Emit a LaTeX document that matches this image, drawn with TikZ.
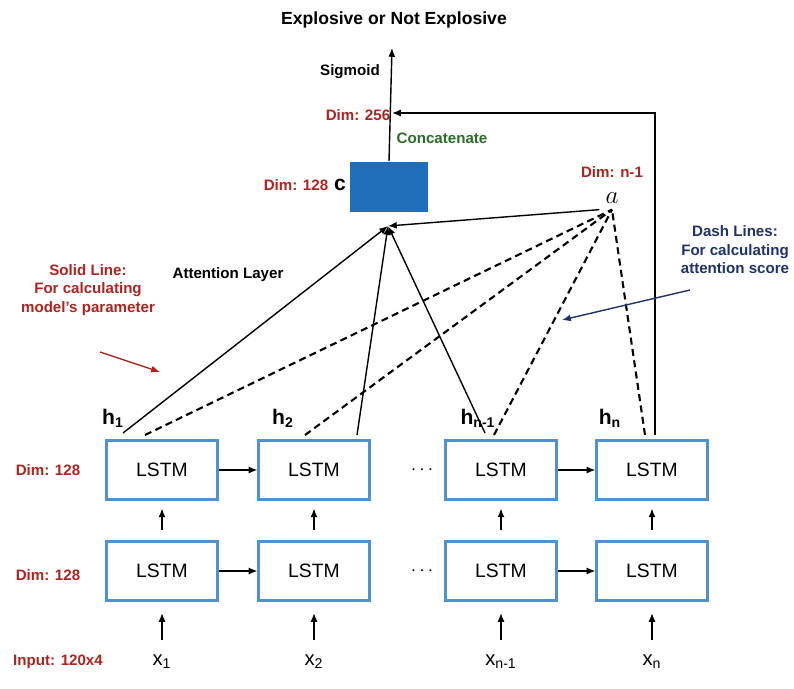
\documentclass[tikz,border=0pt]{standalone}
\usepackage{fontspec}
\setmainfont{Liberation Sans}
\usetikzlibrary{arrows.meta}
\begin{document}
\begin{tikzpicture}[x=0.02cm,y=-0.02cm,
  lbl/.style={font=\bfseries\fontsize{8.6}{10.5}\selectfont,align=center},
  red/.style={lbl,text={rgb,255:red,175;green,35;blue,30}},
  lstm/.style={draw={rgb,255:red,80;green,145;blue,210},line width=1.2pt,minimum width=2.22cm,minimum height=1.18cm,font=\fontsize{11}{13}\selectfont},
  arr/.style={-{Latex[length=5pt,width=4pt]},line width=0.8pt},
  dsh/.style={dashed,dash pattern=on 4pt off 2.5pt,line width=1.2pt}]
\useasboundingbox (0,0) rectangle (794,689);
% LSTM boxes
\foreach \n/\x in {1/162,2/314,3/501,4/652}{
  \node[lstm] (t\n) at (\x,470) {LSTM};
  \node[lstm] (b\n) at (\x,571) {LSTM};
  \draw[arr] (b\n.north) ++(0,-10) coordinate (u\n) -- ++(0,-22);
}
\draw[arr] (t1) -- (t2); \draw[arr] (t3) -- (t4);
\draw[arr] (b1) -- (b2); \draw[arr] (b3) -- (b4);
\node[font=\fontsize{11}{13}\selectfont] (d1) at (422,470) {$\cdots$};
\node[font=\fontsize{11}{13}\selectfont] (d2) at (422,571) {$\cdots$};
% inputs
\foreach \n/\x/\s in {1/162/1,2/314/2,3/501/{n-1},4/652/n}{
  \node[font=\fontsize{11.5}{13}\selectfont] (x\n) at (\x,662) {x\textsubscript{\s}};
  \draw[arr] (\x,640) -- (\x,613);
}
% h labels
\node[font=\bfseries\fontsize{12}{14}\selectfont] (h1) at (113,418) {h\textsubscript{1}};
\node[font=\bfseries\fontsize{12}{14}\selectfont] (h2) at (283,418) {h\textsubscript{2}};
\node[font=\bfseries\fontsize{12}{14}\selectfont] (h3) at (478,418) {h\textsubscript{n-1}};
\node[font=\bfseries\fontsize{12}{14}\selectfont] (h4) at (610,418) {h\textsubscript{n}};
% c and a
\node[fill={rgb,255:red,30;green,110;blue,185},minimum width=1.56cm,minimum height=1.02cm,inner sep=0] (c) at (389,187) {};
\coordinate (cb) at (388,226);
\node[font=\bfseries\fontsize{12}{14}\selectfont] (cl) at (340,185) {c};
\node[red] (dc) at (296,185) {Dim: 128};
\node[font=\itshape\fontsize{14}{16}\selectfont] (a) at (612,198) {$a$};
\node[red] (da) at (612,172) {Dim: n-1};
% solid lines
\draw[arr] (123,433) -- (cb);
\draw[arr] (357,435) -- (cb);
\draw[arr] (485,433) -- (cb);
\draw[arr] (a.south west) -- (cb);
% dashed
\foreach \x in {145,305,494,645}{ \draw[dsh] (\x,435) -- (a.south); }
% output
\draw[arr] (c.north) -- (392,48);
\coordinate (k) at (655,113);
\draw[arr] (655,435) -- (k) -- (392,113);
\node[lbl] (title) at (394,20) {\fontsize{10}{12}\selectfont Explosive or Not Explosive};
\node[lbl] (sg) at (350,72) {Sigmoid};
\node[red] (d256) at (358,115) {Dim: 256};
\node[lbl,text={rgb,255:red,40;green,110;blue,40}] (cc) at (442,138) {Concatenate};
\node[lbl] (att) at (228,275) {Attention Layer};
\node[red] (sl) at (88,290) {Solid Line:\\For calculating\\model's parameter};
\draw[arr,draw={rgb,255:red,175;green,35;blue,30}] (100,352) -- (160,372);
\node[lbl,text={rgb,255:red,30;green,50;blue,110}] (dl) at (735,250) {Dash Lines:\\For calculating\\attention score};
\draw[arr,draw={rgb,255:red,30;green,50;blue,110}] (690,290) -- (562,320);
\node[red] (r1) at (48,470) {Dim: 128};
\node[red] (r2) at (48,575) {Dim: 128};
\node[red] (r3) at (58,662) {Input: 120x4};
\end{tikzpicture}
\end{document}
